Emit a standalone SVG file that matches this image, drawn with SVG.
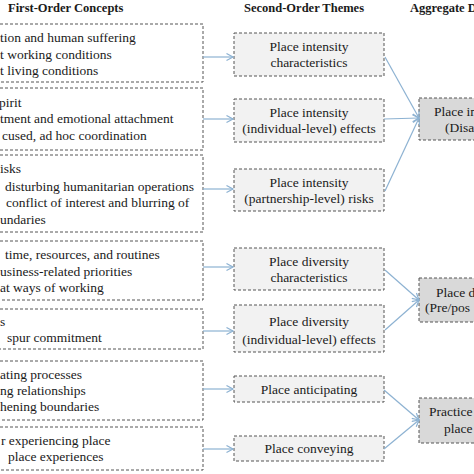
<svg xmlns="http://www.w3.org/2000/svg" width="474" height="474" viewBox="0 0 474 474">
<style>
text{font-family:"Liberation Serif","Times New Roman",serif;font-size:13.5px;fill:#1a1a1a}
.h{font-weight:bold;font-size:12.5px}
.c{text-anchor:middle}
.b1{fill:#ffffff;stroke:#555;stroke-width:1;stroke-dasharray:3,2}
.b2{fill:#f2f2f2;stroke:#555;stroke-width:1;stroke-dasharray:3,2}
.b3{fill:#d9d9d9;stroke:#555;stroke-width:1;stroke-dasharray:3,2}
.e{fill:none;stroke:#8db2d2;stroke-width:1.2}
</style>
<defs>
<marker id="ah" markerUnits="userSpaceOnUse" markerWidth="10" markerHeight="10" refX="7" refY="4" orient="auto">
<path d="M0.5,0.5 L7,4 L0.5,7.5" fill="none" stroke="#8db2d2" stroke-width="1.2"/>
</marker>
</defs>
<g id="headers">
<text class="h" x="8" y="12">First-Order Concepts</text>
<text class="h" x="244" y="12">Second-Order Themes</text>
<text class="h" x="410" y="12">Aggregate D</text>
</g>
<g id="f1"><rect class="b1" x="-10" y="24" width="213" height="58"/>
<text x="0" y="42">tion and human suffering</text>
<text x="0" y="59">t working conditions</text>
<text x="0" y="75">t living conditions</text></g>
<g id="f2"><rect class="b1" x="-10" y="88" width="213" height="62"/>
<text x="-1" y="107">pirit</text>
<text x="0" y="123">tment and emotional attachment</text>
<text x="2" y="140">cused, ad hoc coordination</text></g>
<g id="f3"><rect class="b1" x="-10" y="155" width="213" height="77"/>
<text x="0" y="173">isks</text>
<text x="5" y="191">disturbing humanitarian operations</text>
<text x="6" y="207">conflict of interest and blurring of</text>
<text x="0" y="224">undaries</text></g>
<g id="f4"><rect class="b1" x="-10" y="241" width="213" height="59"/>
<text x="5" y="259">time, resources, and routines</text>
<text x="0" y="276">usiness-related priorities</text>
<text x="0" y="292">at ways of working</text></g>
<g id="f5"><rect class="b1" x="-10" y="309" width="213" height="40"/>
<text x="0" y="326">s</text>
<text x="7" y="342">spur commitment</text></g>
<g id="f6"><rect class="b1" x="-10" y="361" width="213" height="59"/>
<text x="0" y="379">ating processes</text>
<text x="0" y="395">ng relationships</text>
<text x="0" y="411">hening boundaries</text></g>
<g id="f7"><rect class="b1" x="-10" y="427" width="213" height="43"/>
<text x="1" y="445">r experiencing place</text>
<text x="8" y="461">place experiences</text></g>
<g id="s1"><rect class="b2" x="234" y="33" width="150" height="43"/>
<text class="c" x="309" y="51">Place intensity</text>
<text class="c" x="309" y="67">characteristics</text></g>
<g id="s2"><rect class="b2" x="234" y="99" width="150" height="43"/>
<text class="c" x="309" y="117">Place intensity</text>
<text class="c" x="309" y="133">(individual-level)  effects</text></g>
<g id="s3"><rect class="b2" x="234" y="169" width="150" height="42"/>
<text class="c" x="309" y="187">Place intensity</text>
<text class="c" x="309" y="203">(partnership-level)  risks</text></g>
<g id="s4"><rect class="b2" x="234" y="248" width="150" height="42"/>
<text class="c" x="309" y="266">Place diversity</text>
<text class="c" x="309" y="282">characteristics</text></g>
<g id="s5"><rect class="b2" x="234" y="305" width="150" height="47"/>
<text class="c" x="309" y="326">Place diversity</text>
<text class="c" x="309" y="344">(individual-level)  effects</text></g>
<g id="s6"><rect class="b2" x="234" y="376" width="150" height="26"/>
<text class="c" x="309" y="394">Place anticipating</text></g>
<g id="s7"><rect class="b2" x="234" y="436" width="150" height="25"/>
<text class="c" x="309" y="453">Place conveying</text></g>
<g id="a1"><rect class="b3" x="419" y="98" width="70" height="42"/>
<text x="434" y="116">Place in</text>
<text x="445" y="132">(Disa</text></g>
<g id="a2"><rect class="b3" x="419" y="278" width="70" height="44"/>
<text x="436" y="297">Place d</text>
<text x="425" y="312">(Pre/pos</text></g>
<g id="a3"><rect class="b3" x="419" y="398" width="70" height="45"/>
<text x="429" y="416">Practice</text>
<text x="444" y="433">place</text></g>
<g id="connectors">
<line class="e" x1="203" y1="57" x2="233" y2="57" marker-end="url(#ah)"/>
<line class="e" x1="203" y1="119" x2="233" y2="119" marker-end="url(#ah)"/>
<line class="e" x1="203" y1="189" x2="233" y2="189" marker-end="url(#ah)"/>
<line class="e" x1="203" y1="267" x2="233" y2="267" marker-end="url(#ah)"/>
<line class="e" x1="203" y1="331" x2="233" y2="331" marker-end="url(#ah)"/>
<line class="e" x1="203" y1="389" x2="233" y2="389" marker-end="url(#ah)"/>
<line class="e" x1="203" y1="449" x2="233" y2="449" marker-end="url(#ah)"/>
<line class="e" x1="385" y1="57" x2="419" y2="118" marker-end="url(#ah)"/>
<line class="e" x1="384" y1="119" x2="419" y2="118" marker-end="url(#ah)"/>
<line class="e" x1="385" y1="191" x2="419" y2="118" marker-end="url(#ah)"/>
<line class="e" x1="385" y1="270" x2="419" y2="300" marker-end="url(#ah)"/>
<line class="e" x1="385" y1="330" x2="419" y2="300" marker-end="url(#ah)"/>
<line class="e" x1="384" y1="390" x2="419" y2="420" marker-end="url(#ah)"/>
<line class="e" x1="384" y1="449" x2="419" y2="420" marker-end="url(#ah)"/>
</g>
</svg>
